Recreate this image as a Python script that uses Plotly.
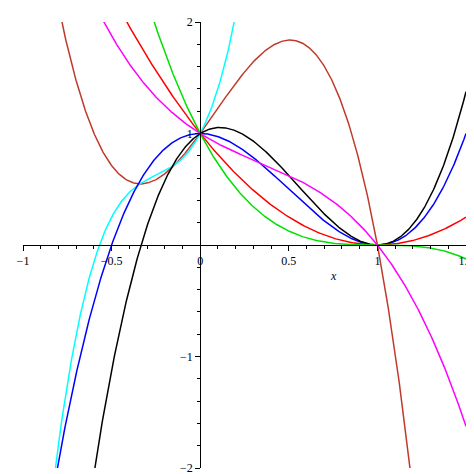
import numpy as np
import plotly.graph_objects as go

# polynomial coefficients (constant term first)
names = ["brown", "cyan", "blue", "black", "red", "green", "magenta"]
colors = ["#c0392b", "#00ffff", "#0000ff", "#000000", "#ff0000", "#00e000", "#ff00ff"]
coefs = [
    [1, 2.2, 1.1, -4.3],
    [1, 3, 9, 12],
    [1, 0, -3, 2],        # (1-x)^2 (1+2x)
    [1, 1, -5, 3],        # (1-x)^2 (1+3x)
    [1, -2, 1],           # (1-x)^2
    [1, -3, 3, -1],       # (1-x)^3
    [1, -1, 1, -1],       # (1-x)(1+x^2)
]
xticks = [-1, -0.5, 0, 0.5, 1, 1.5]
yticks = [-2, -1, 1, 2]

x = np.linspace(-1, 1.5, 600)
fig = go.Figure()
for n, c, p in zip(names, colors, coefs):
    y = np.polynomial.polynomial.polyval(x, p)
    y = np.where((y > 2.3) | (y < -2.3), np.nan, y)
    fig.add_trace(go.Scatter(x=x, y=y, mode="lines", name=n,
                             line=dict(color=c, width=1.5), connectgaps=False))

font = dict(family="Liberation Serif", size=12, color="black")
fig.update_layout(
    width=474, height=474, showlegend=False,
    plot_bgcolor="white", paper_bgcolor="white",
    margin=dict(l=15, r=16, t=14, b=14),
    xaxis=dict(range=[-1, 1.5], anchor="free", position=0.5, showline=True, automargin=False,
               linecolor="black", linewidth=1, showgrid=False, zeroline=False,
               tickvals=xticks, ticktext=["−1", "−0.5", "0", "0.5", "1", "1.5"],
               ticks="outside", ticklen=5, tickcolor="black", tickfont=font,
               minor=dict(dtick=0.1, ticks="outside", ticklen=3, tickcolor="black")),
    yaxis=dict(range=[-2, 2], anchor="free", position=0.4, showline=True, automargin=False,
               linecolor="black", linewidth=1, showgrid=False, zeroline=False,
               tickvals=yticks, ticktext=["−2", "−1", "1", "2"],
               ticks="outside", ticklen=5, tickcolor="black", tickfont=font,
               minor=dict(dtick=0.2, ticks="outside", ticklen=3, tickcolor="black")),
    annotations=[dict(x=0.75, y=-0.28, text="<i>x</i>", showarrow=False, font=font)],
)
fig.write_html("out.html")
